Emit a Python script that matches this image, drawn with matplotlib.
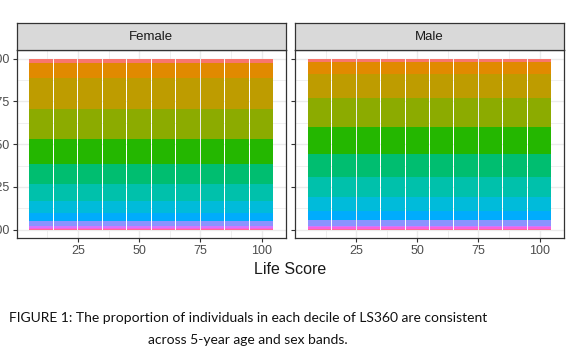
import numpy as np
import matplotlib
matplotlib.use("Agg")
import matplotlib.pyplot as plt

# x positions of the bars (Life Score)
life_score = [10, 20, 30, 40, 50, 60, 70, 80, 90, 100]
x_ticks = [25, 50, 75, 100]
y_ticks = [0.0, 0.25, 0.5, 0.75, 1.0]
y_labels = ["0.00", "0.25", "0.50", "0.75", "1.00"]

# proportion in each level, top of stack first (level 1 .. 13)
female_props = [0.024, 0.092, 0.177, 0.175, 0.148, 0.119, 0.096,
                0.073, 0.044, 0.033, 0.006, 0.010, 0.003]
male_props = [0.021, 0.068, 0.141, 0.170, 0.157, 0.134, 0.115,
              0.083, 0.053, 0.037, 0.007, 0.011, 0.003]

# ggplot default hue palette, 13 levels
colours = ["#F8766D", "#E18A00", "#BE9C00", "#8CAB00", "#24B700", "#00BE70",
           "#00C1AB", "#00BBDA", "#00ACFC", "#8B93FF", "#D575FE", "#F962DD",
           "#FF6A98"]

panels = [("Female", female_props), ("Male", male_props)]

W, H = 572, 364
fig = plt.figure(figsize=(W / 100, H / 100), dpi=100)
plt.rcParams["font.family"] = ["Liberation Sans", "DejaVu Sans"]

def fx(px):
    return px / W

def fy(py):
    return 1 - py / H

panel_x = [(16.7, 286.0), (295.0, 564.0)]
top_px, bot_px, strip_top = 50.0, 238.3, 23.3

for i, (name, props) in enumerate(panels):
    x0, x1 = panel_x[i]
    ax = fig.add_axes([fx(x0), fy(bot_px), fx(x1 - x0), fy(top_px) - fy(bot_px)])
    ax.set_xlim(0, 110)
    ax.set_ylim(-0.05, 1.05)

    # grid
    for g in [12.5, 37.5, 62.5, 87.5]:
        ax.axvline(g, color="#EBEBEB", lw=0.55, zorder=0)
    for g in x_ticks:
        ax.axvline(g, color="#EBEBEB", lw=1.0, zorder=0)
    for g in [0.125, 0.375, 0.625, 0.875]:
        ax.axhline(g, color="#EBEBEB", lw=0.55, zorder=0)
    for g in y_ticks:
        ax.axhline(g, color="#EBEBEB", lw=1.0, zorder=0)

    # stacked bars, last level at the bottom
    bottoms = np.zeros(len(life_score))
    for p, c in reversed(list(zip(props, colours))):
        vals = np.full(len(life_score), p)
        ax.bar(life_score, vals, width=9.6, bottom=bottoms, color=c,
               linewidth=0, zorder=2)
        bottoms += vals

    ax.set_xticks(x_ticks)
    ax.set_xticklabels([str(t) for t in x_ticks])
    ax.set_yticks(y_ticks)
    if i == 0:
        ax.set_yticklabels(y_labels)
    else:
        ax.set_yticklabels([])
        ax.tick_params(axis="y", length=0)
    ax.tick_params(colors="#333333", labelcolor="#4D4D4D", labelsize=9,
                   length=3, width=0.8, pad=2)
    for s in ax.spines.values():
        s.set_color("#333333")
        s.set_linewidth(0.9)

    # facet strip
    sax = fig.add_axes([fx(x0), fy(top_px), fx(x1 - x0), fy(strip_top) - fy(top_px)])
    sax.set_xticks([])
    sax.set_yticks([])
    sax.set_facecolor("#D9D9D9")
    for s in sax.spines.values():
        s.set_color("#333333")
        s.set_linewidth(0.9)
    sax.text(0.5, 0.5, name, ha="center", va="center", fontsize=9.5,
             color="#1A1A1A", transform=sax.transAxes)

fig.text(fx(290), fy(270), "Life Score", ha="center", va="center",
         fontsize=11.5, color="#1A1A1A")

cap_font = ["Lato", "DejaVu Sans"]
fig.text(fx(248), fy(317.5),
         "FIGURE 1: The proportion of individuals in each decile of LS360 are consistent",
         ha="center", va="center", fontsize=10, family=cap_font, color="#111111")
fig.text(fx(248), fy(340), "across 5-year age and sex bands.",
         ha="center", va="center", fontsize=10, family=cap_font, color="#111111")

fig.savefig("out.png", dpi=100)
